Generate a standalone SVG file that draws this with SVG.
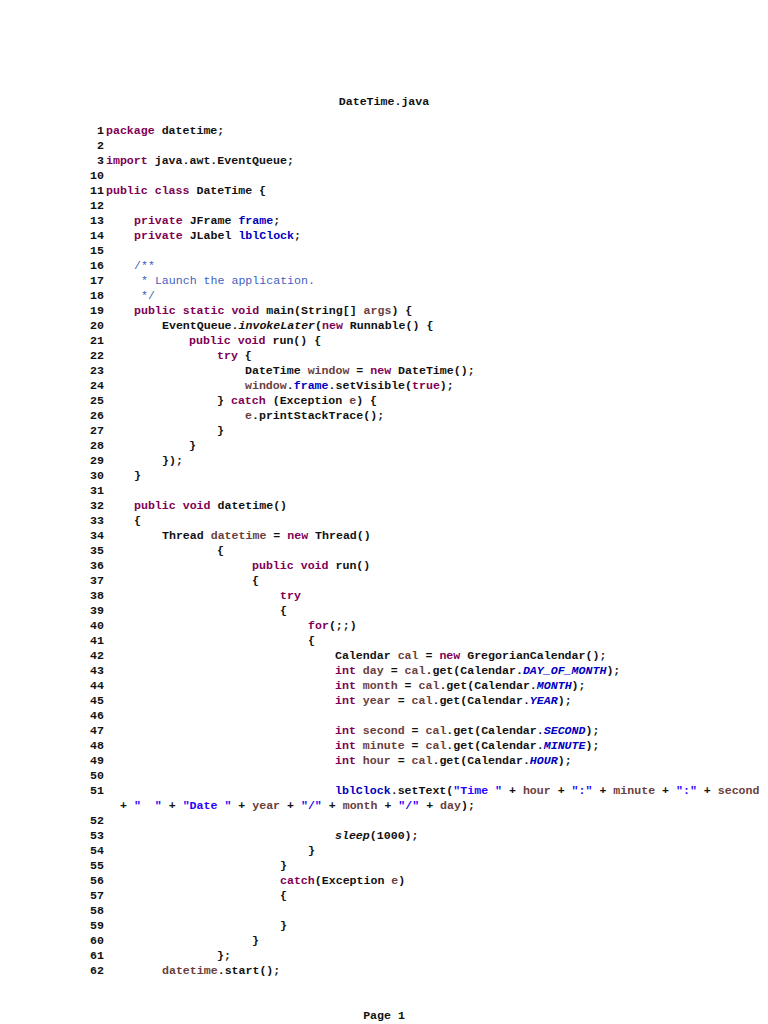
<svg xmlns="http://www.w3.org/2000/svg" width="768" height="1024" viewBox="0 0 768 1024">
<style>
text{font-family:"Liberation Mono","DejaVu Sans Mono",monospace;font-size:11.6px;font-weight:bold;fill:#111;white-space:pre}
.n{text-anchor:end}
.k{fill:#7f0055}.f{fill:#0000c0}.s{fill:#2a00ff}.c{fill:#3f5fbf;font-weight:normal}.v{fill:#6a3e3e}.i{font-style:italic}
</style>
<rect width="768" height="1024" fill="#fff"/>
<text x="384" y="105" text-anchor="middle">DateTime.java</text>
<g id="linenumbers">
<text class="n" x="104" y="134">1</text><text class="n" x="104" y="149">2</text><text class="n" x="104" y="164">3</text>
<text class="n" x="104" y="179">10</text><text class="n" x="104" y="194">11</text><text class="n" x="104" y="209">12</text>
<text class="n" x="104" y="224">13</text><text class="n" x="104" y="239">14</text><text class="n" x="104" y="254">15</text>
<text class="n" x="104" y="269">16</text><text class="n" x="104" y="284">17</text><text class="n" x="104" y="299">18</text>
<text class="n" x="104" y="314">19</text><text class="n" x="104" y="329">20</text><text class="n" x="104" y="344">21</text>
<text class="n" x="104" y="359">22</text><text class="n" x="104" y="374">23</text><text class="n" x="104" y="389">24</text>
<text class="n" x="104" y="404">25</text><text class="n" x="104" y="419">26</text><text class="n" x="104" y="434">27</text>
<text class="n" x="104" y="449">28</text><text class="n" x="104" y="464">29</text><text class="n" x="104" y="479">30</text>
<text class="n" x="104" y="494">31</text><text class="n" x="104" y="509">32</text><text class="n" x="104" y="524">33</text>
<text class="n" x="104" y="539">34</text><text class="n" x="104" y="554">35</text><text class="n" x="104" y="569">36</text>
<text class="n" x="104" y="584">37</text><text class="n" x="104" y="599">38</text><text class="n" x="104" y="614">39</text>
<text class="n" x="104" y="629">40</text><text class="n" x="104" y="644">41</text><text class="n" x="104" y="659">42</text>
<text class="n" x="104" y="674">43</text><text class="n" x="104" y="689">44</text><text class="n" x="104" y="704">45</text>
<text class="n" x="104" y="719">46</text><text class="n" x="104" y="734">47</text><text class="n" x="104" y="749">48</text>
<text class="n" x="104" y="764">49</text><text class="n" x="104" y="779">50</text><text class="n" x="104" y="794">51</text>
<text class="n" x="104" y="824">52</text><text class="n" x="104" y="839">53</text><text class="n" x="104" y="854">54</text>
<text class="n" x="104" y="869">55</text><text class="n" x="104" y="884">56</text><text class="n" x="104" y="899">57</text>
<text class="n" x="104" y="914">58</text><text class="n" x="104" y="929">59</text><text class="n" x="104" y="944">60</text>
<text class="n" x="104" y="959">61</text><text class="n" x="104" y="974">62</text>
</g>
<g id="code">
<text x="106" y="134"><tspan class="k">package</tspan> datetime;</text>
<text x="106" y="164"><tspan class="k">import</tspan> java.awt.EventQueue;</text>
<text x="106" y="194"><tspan class="k">public class</tspan> DateTime {</text>
<text x="134" y="224"><tspan class="k">private</tspan> JFrame <tspan class="f">frame</tspan>;</text>
<text x="134" y="239"><tspan class="k">private</tspan> JLabel <tspan class="f">lblClock</tspan>;</text>
<text x="134" y="269" class="c">/**</text>
<text x="141" y="284" class="c">* Launch the application.</text>
<text x="141" y="299" class="c">*/</text>
<text x="134" y="314"><tspan class="k">public static void</tspan> main(String[] <tspan class="v">args</tspan>) {</text>
<text x="162" y="329">EventQueue.<tspan class="i">invokeLater</tspan>(<tspan class="k">new</tspan> Runnable() {</text>
<text x="189" y="344"><tspan class="k">public void</tspan> run() {</text>
<text x="217" y="359"><tspan class="k">try</tspan> {</text>
<text x="245" y="374">DateTime <tspan class="v">window</tspan> = <tspan class="k">new</tspan> DateTime();</text>
<text x="245" y="389"><tspan class="v">window</tspan>.<tspan class="f">frame</tspan>.setVisible(<tspan class="k">true</tspan>);</text>
<text x="217" y="404">} <tspan class="k">catch</tspan> (Exception <tspan class="v">e</tspan>) {</text>
<text x="245" y="419"><tspan class="v">e</tspan>.printStackTrace();</text>
<text x="217" y="434">}</text>
<text x="189" y="449">}</text>
<text x="162" y="464">});</text>
<text x="134" y="479">}</text>
<text x="134" y="509"><tspan class="k">public void</tspan> datetime()</text>
<text x="134" y="524">{</text>
<text x="162" y="539">Thread <tspan class="v">datetime</tspan> = <tspan class="k">new</tspan> Thread()</text>
<text x="217" y="554">{</text>
<text x="252" y="569"><tspan class="k">public void</tspan> run()</text>
<text x="252" y="584">{</text>
<text x="280" y="599" class="k">try</text>
<text x="280" y="614">{</text>
<text x="308" y="629"><tspan class="k">for</tspan>(;;)</text>
<text x="308" y="644">{</text>
<text x="335" y="659">Calendar <tspan class="v">cal</tspan> = <tspan class="k">new</tspan> GregorianCalendar();</text>
<text x="335" y="674"><tspan class="k">int</tspan> <tspan class="v">day</tspan> = <tspan class="v">cal</tspan>.get(Calendar.<tspan class="f i">DAY_OF_MONTH</tspan>);</text>
<text x="335" y="689"><tspan class="k">int</tspan> <tspan class="v">month</tspan> = <tspan class="v">cal</tspan>.get(Calendar.<tspan class="f i">MONTH</tspan>);</text>
<text x="335" y="704"><tspan class="k">int</tspan> <tspan class="v">year</tspan> = <tspan class="v">cal</tspan>.get(Calendar.<tspan class="f i">YEAR</tspan>);</text>
<text x="335" y="734"><tspan class="k">int</tspan> <tspan class="v">second</tspan> = <tspan class="v">cal</tspan>.get(Calendar.<tspan class="f i">SECOND</tspan>);</text>
<text x="335" y="749"><tspan class="k">int</tspan> <tspan class="v">minute</tspan> = <tspan class="v">cal</tspan>.get(Calendar.<tspan class="f i">MINUTE</tspan>);</text>
<text x="335" y="764"><tspan class="k">int</tspan> <tspan class="v">hour</tspan> = <tspan class="v">cal</tspan>.get(Calendar.<tspan class="f i">HOUR</tspan>);</text>
<text x="335" y="794"><tspan class="f">lblClock</tspan>.setText(<tspan class="s">"Time "</tspan> + <tspan class="v">hour</tspan> + <tspan class="s">":"</tspan> + <tspan class="v">minute</tspan> + <tspan class="s">":"</tspan> + <tspan class="v">second</tspan></text>
<text x="120" y="809">+ <tspan class="s">"  "</tspan> + <tspan class="s">"Date "</tspan> + <tspan class="v">year</tspan> + <tspan class="s">"/"</tspan> + <tspan class="v">month</tspan> + <tspan class="s">"/"</tspan> + <tspan class="v">day</tspan>);</text>
<text x="335" y="839"><tspan class="i">sleep</tspan>(1000);</text>
<text x="308" y="854">}</text>
<text x="280" y="869">}</text>
<text x="280" y="884"><tspan class="k">catch</tspan>(Exception <tspan class="v">e</tspan>)</text>
<text x="280" y="899">{</text>
<text x="280" y="929">}</text>
<text x="252" y="944">}</text>
<text x="217" y="959">};</text>
<text x="162" y="974"><tspan class="v">datetime</tspan>.start();</text>
</g>
<text x="384" y="1019" text-anchor="middle">Page 1</text>
</svg>
